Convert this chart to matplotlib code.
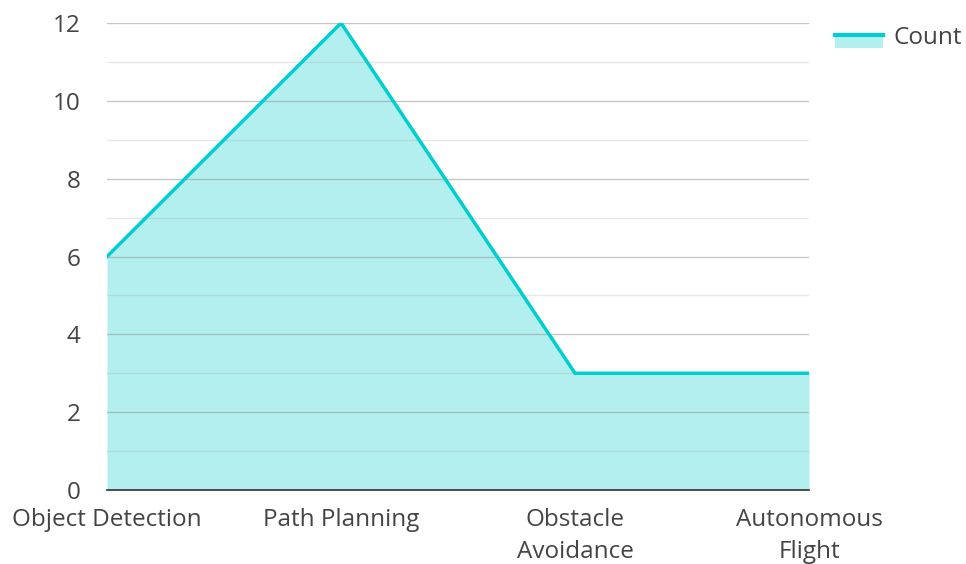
import matplotlib
matplotlib.use('Agg')

import matplotlib.pyplot as plt
from matplotlib.lines import Line2D
from matplotlib.patches import Patch, Rectangle
from matplotlib.legend_handler import HandlerBase

# data
categories = ['Object Detection', 'Path Planning', 'Obstacle\nAvoidance', 'Autonomous\nFlight']
counts = [6, 12, 3, 3]
yticks = [0, 2, 4, 6, 8, 10, 12]

line_color = '#00CED1'
fill_color = '#b2efee'

plt.rcParams['font.family'] = ['Open Sans', 'DejaVu Sans']


class AreaHandler(HandlerBase):
    # fill box with the line along its top edge
    def create_artists(self, legend, orig_handle, xdescent, ydescent,
                       width, height, fontsize, trans):
        mid = height / 2 - ydescent
        top = mid + 0.7
        rect = Rectangle((-xdescent, top - 9.5), width, 9.5,
                         facecolor=fill_color, edgecolor='none', transform=trans)
        ln = Line2D([-xdescent, -xdescent + width], [top, top],
                    color=line_color, lw=3, transform=trans)
        return [rect, ln]


fig = plt.figure(figsize=(9.66, 5.64), dpi=100)
ax = fig.add_axes([0.1108, 0.1312, 0.7267, 0.828])

x = list(range(len(categories)))
ax.fill_between(x, counts, 0, color=fill_color, lw=0, zorder=1)
ax.plot(x, counts, color=line_color, lw=2.5, zorder=3, solid_joinstyle='miter')

ax.set_xlim(0, len(categories) - 1)
ax.set_ylim(0, 12)
ax.set_yticks(yticks)
ax.set_yticks(range(1, 12, 2), minor=True)
ax.grid(axis='y', which='major', color='#9a9a9a', alpha=0.55, lw=1, zorder=2)
ax.grid(axis='y', which='minor', color='#b0b0b0', alpha=0.3, lw=1, zorder=2)
ax.set_axisbelow(False)

ax.set_xticks(x)
ax.set_xticklabels(categories, linespacing=1.45)
ax.tick_params(axis='x', length=0, pad=13, labelsize=17.5, labelcolor='#444444')
ax.tick_params(axis='y', which='both', length=0, pad=19, labelsize=17.5, labelcolor='#444444')

for s in ['top', 'right', 'left']:
    ax.spines[s].set_visible(False)
ax.spines['bottom'].set_color('#333333')
ax.spines['bottom'].set_linewidth(1.2)
ax.spines['bottom'].set_zorder(4)

handle = Patch(facecolor=fill_color)
leg = fig.legend([handle], ['Count'], loc='upper left', bbox_to_anchor=(835 / 966, 1 - 26 / 564),
                 frameon=False, fontsize=17.5, handlelength=1.98, handleheight=0.7,
                 handletextpad=0.41, borderpad=0, borderaxespad=0, labelcolor='#444444',
                 handler_map={Patch: AreaHandler()})

fig.savefig('out.png', dpi=100)
